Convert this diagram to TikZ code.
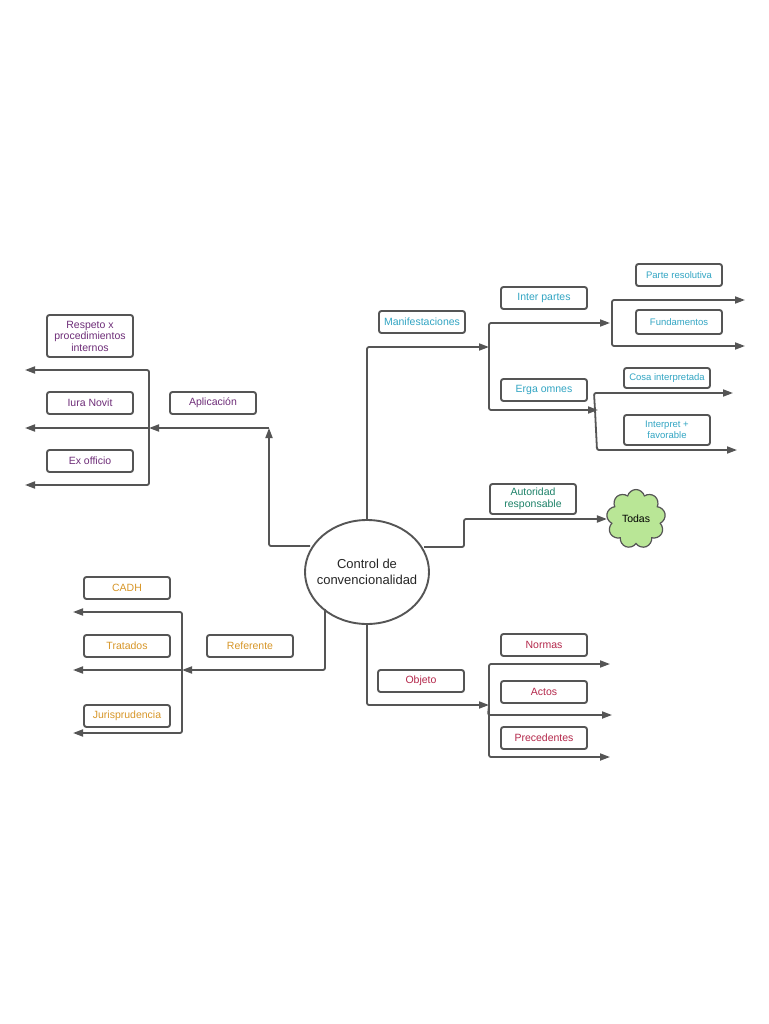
\documentclass[tikz,border=0pt]{standalone}
\usepackage{fontspec}
\setmainfont{Liberation Sans}
\usetikzlibrary{arrows.meta,shapes.geometric,shapes.symbols}
\definecolor{cpur}{RGB}{110,45,120}
\definecolor{ccy}{RGB}{50,165,195}
\definecolor{cte}{RGB}{30,130,105}
\definecolor{cor}{RGB}{215,150,40}
\definecolor{cre}{RGB}{180,40,75}
\definecolor{cln}{RGB}{85,85,85}
\definecolor{cgr}{RGB}{185,230,150}
\begin{document}
\begin{tikzpicture}[x=1pt,y=-1pt,
 bx/.style={draw=cln,line width=1.9pt,rounded corners=2.5pt,minimum width=86pt,minimum height=22pt,inner sep=1pt,align=center,font=\fontsize{10.5}{11.5}\selectfont},
 sm/.style={font=\fontsize{9.5}{11}\selectfont},
 ln/.style={draw=cln,line width=1.8pt,rounded corners=2pt},
 ar/.style={ln,-{Triangle[length=10pt,width=7pt]}}]
\useasboundingbox (0,0) rectangle (768,1024);
\fill[white] (0,0) rectangle (768,1024);
\node[ellipse,draw=cln,line width=1.9pt,minimum width=124pt,minimum height=104pt,inner sep=0pt] (c) at (367,572) {};
\node[align=center,font=\fontsize{13}{15.5}\selectfont,text=black!85] (ct) at (c.center) {Control de\\convencionalidad};
% Manifestaciones
\node[bx,text=ccy] (man) at (422,322) {Manifestaciones};
\node[bx,text=ccy] (ip) at (544,298) {Inter partes};
\node[bx,text=ccy] (eo) at (544,390) {Erga omnes};
\node[bx,text=ccy,sm] (pr) at (679,275) {Parte resolutiva};
\node[bx,text=ccy,sm,minimum height=24pt] (fu) at (679,322) {Fundamentos};
\node[bx,text=ccy,sm,minimum height=20pt] (ci) at (667,378) {Cosa interpretada};
\node[bx,text=ccy,sm,minimum height=30pt] (if) at (667,430) {Interpret +\\favorable};
\coordinate (m1) at (489,347);
\draw[ar] (c.north) -- (367,347) -- (m1);
\draw[ar] (m1) -- (489,323) -- (610,323);
\draw[ar] (m1) -- (489,410) -- (598,410);
\draw[ar] (612,323) -- (612,300) -- (745,300);
\draw[ar] (612,323) -- (612,346) -- (745,346);
\draw[ar] (595,410) -- (594,393) -- (733,393);
\draw[ar] (595,410) -- (597,450) -- (737,450);
% Autoridad
\node[bx,text=cte,minimum height=30pt] (au) at (533,499) {Autoridad\\responsable};
\node[cloud,cloud puffs=9,draw=cln,line width=1.2pt,fill=cgr,minimum width=52pt,minimum height=44pt,font=\fontsize{10.5}{11}\selectfont] (to) at (636,519) {Todas};
\coordinate (e1) at (424,547);
\draw[ar] (e1) -- (464,547) -- (464,519) -- (to.west);
% Aplicacion
\node[bx,text=cpur] (ap) at (213,403) {Aplicación};
\node[bx,text=cpur,minimum height=42pt] (re) at (90,336) {Respeto x\\procedimientos\\internos};
\node[bx,text=cpur] (iu) at (90,403) {Iura Novit};
\node[bx,text=cpur] (ex) at (90,461) {Ex officio};
\coordinate (a0) at (310,546);
\coordinate (a1) at (269,428);
\coordinate (a2) at (149,428);
\draw[ar] (a0) -- (269,546) -- (a1);
\draw[ar] (a1) -- (a2);
\draw[ar] (a2) -- (149,370) -- (25,370);
\draw[ar] (a2) -- (25,428);
\draw[ar] (a2) -- (149,485) -- (25,485);
% Referente
\node[bx,text=cor] (rf) at (250,646) {Referente};
\node[bx,text=cor] (ca) at (127,588) {CADH};
\node[bx,text=cor] (tr) at (127,646) {Tratados};
\node[bx,text=cor] (ju) at (127,716) {Jurisprudencia};
\coordinate (r0) at (325,609);
\coordinate (r1) at (182,670);
\draw[ar] (r0) -- (325,670) -- (r1);
\draw[ar] (r1) -- (182,612) -- (73,612);
\draw[ar] (r1) -- (73,670);
\draw[ar] (r1) -- (182,733) -- (73,733);
% Objeto
\node[bx,text=cre] (ob) at (421,681) {Objeto};
\node[bx,text=cre] (no) at (544,645) {Normas};
\node[bx,text=cre] (ac) at (544,692) {Actos};
\node[bx,text=cre] (pc) at (544,738) {Precedentes};
\coordinate (o1) at (489,705);
\draw[ar] (c.south) -- (367,705) -- (o1);
\draw[ar] (o1) -- (489,664) -- (610,664);
\draw[ar] (o1) -- (488,715) -- (612,715);
\draw[ar] (o1) -- (489,757) -- (610,757);
\end{tikzpicture}
\end{document}
